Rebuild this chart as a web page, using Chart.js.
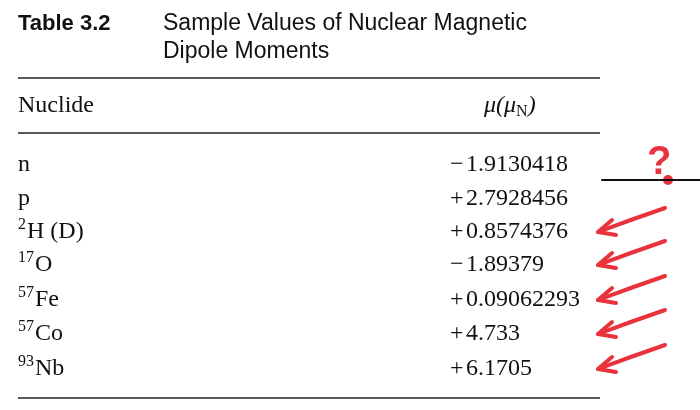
<!DOCTYPE html>
<html><head><meta charset="utf-8">
<script src="https://cdn.jsdelivr.net/npm/chart.js@4"></script>
<style>html,body{margin:0;background:#fff}#c{width:700px;height:410px}</style>
</head><body><div id="c"><canvas id="cv" width="700" height="410"></canvas></div>
<script>
// table content
var tableLabel = "Table 3.2";
var tableTitle = ["Sample Values of Nuclear Magnetic", "Dipole Moments"];
var headers = ["Nuclide", "μ(μN)"];
var massNumbers = ["", "", "2", "17", "57", "57", "93"];
var elements = ["n", "p", "H (D)", "O", "Fe", "Co", "Nb"];
var moments = ["−1.9130418", "+2.7928456", "+0.8574376", "−1.89379", "+0.09062293", "+4.733", "+6.1705"];
var marked = [false, false, true, true, true, true, true];

var rowY = [163, 197, 230, 263, 298, 332, 367];

var tablePlugin = {
    id: 'table',
    afterDraw: function(chart) {
        var ctx = chart.ctx, sx = chart.scales.x, sy = chart.scales.y;
        function X(v) { return sx.getPixelForValue(v); }
        function Y(v) { return sy.getPixelForValue(v); }
        ctx.save();
        ctx.fillStyle = '#111';
        ctx.textBaseline = 'alphabetic';
        ctx.font = '900 22px "Liberation Sans", Arial';
        ctx.fillText(tableLabel, X(18), Y(30));
        ctx.font = '23px "Liberation Sans", Arial';
        ctx.fillText(tableTitle[0], X(163), Y(30));
        ctx.fillText(tableTitle[1], X(163), Y(58));

        ctx.strokeStyle = '#222';
        ctx.lineWidth = 1.5;
        [78, 133, 398].forEach(function(y) {
            ctx.beginPath(); ctx.moveTo(X(18), Y(y)); ctx.lineTo(X(600), Y(y)); ctx.stroke();
        });

        ctx.font = '24px "Liberation Serif", "Times New Roman", serif';
        ctx.fillText(headers[0], X(18), Y(112));
        ctx.font = 'italic 24px "Liberation Serif", serif';
        ctx.fillText('μ(μ', X(484), Y(112));
        var w = ctx.measureText('μ(μ').width;
        ctx.font = '16px "Liberation Serif", serif';
        ctx.fillText('N', X(484) + w, Y(116));
        var w2 = ctx.measureText('N').width;
        ctx.font = 'italic 24px "Liberation Serif", serif';
        ctx.fillText(')', X(484) + w + w2, Y(112));

        for (var i = 0; i < elements.length; i++) {
            var y = Y(rowY[i] + 8), x = X(18);
            if (massNumbers[i]) {
                ctx.font = '16px "Liberation Serif", serif';
                ctx.fillText(massNumbers[i], x, y - 9);
                x += ctx.measureText(massNumbers[i]).width + 1;
            }
            ctx.font = '24px "Liberation Serif", serif';
            ctx.fillText(elements[i], x, y);
            var sign = moments[i].charAt(0);
            ctx.fillText(sign, X(450), y);
            ctx.fillText(moments[i].slice(1), X(466), y);
        }

        // red annotations
        ctx.strokeStyle = '#e8323c'; ctx.fillStyle = '#e8323c';
        ctx.lineWidth = 4; ctx.lineCap = 'round'; ctx.lineJoin = 'round';
        ctx.font = 'bold 40px "Liberation Sans", Arial';
        ctx.fillText('?', X(647), Y(174));
        ctx.beginPath(); ctx.arc(X(668), Y(180), 5, 0, Math.PI * 2); ctx.fill();
        ctx.strokeStyle = '#111'; ctx.lineWidth = 2;
        ctx.beginPath(); ctx.moveTo(X(602), Y(180)); ctx.lineTo(X(700), Y(180)); ctx.stroke();
        ctx.strokeStyle = '#e8323c'; ctx.lineWidth = 4;
        for (var j = 0; j < marked.length; j++) {
            if (!marked[j]) continue;
            var ty = Y(rowY[j] + 2), tx = X(598);
            ctx.beginPath();
            ctx.moveTo(X(665), ty - 24);
            ctx.quadraticCurveTo(X(630), ty - 12, tx, ty);
            ctx.stroke();
            ctx.beginPath();
            ctx.moveTo(tx + 14, ty - 12); ctx.lineTo(tx, ty); ctx.lineTo(tx + 18, ty + 3);
            ctx.stroke();
        }
        ctx.restore();
    }
};

new Chart(document.getElementById('cv'), {
    type: 'scatter',
    data: { datasets: [{ data: [] }] },
    options: {
        responsive: false, animation: false,
        layout: { padding: 0 },
        plugins: { legend: { display: false }, tooltip: { enabled: false } },
        scales: {
            x: { type: 'linear', min: 0, max: 700, display: false },
            y: { type: 'linear', min: 0, max: 410, reverse: true, display: false }
        }
    },
    plugins: [tablePlugin]
});
</script></body></html>
